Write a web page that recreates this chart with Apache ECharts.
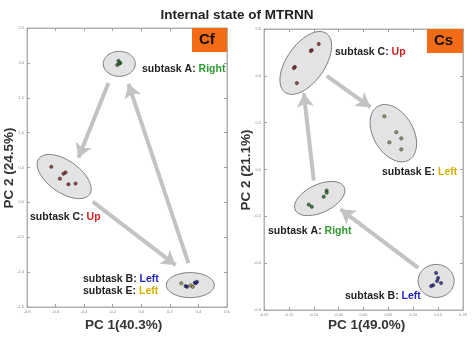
<!DOCTYPE html>
<html>
<head>
<meta charset="utf-8">
<script src="https://cdn.jsdelivr.net/npm/echarts@6/dist/echarts.min.js"></script>
<style>
  html, body { margin: 0; padding: 0; background: #fff; }
  #chart { width: 474px; height: 339px; }
</style>
</head>
<body>
<div id="chart"></div>
<script>
// PCA projections of the MTRNN internal state, one panel per context layer
const cfA = [[-0.160, 2.03], [-0.147, 2.00], [-0.168, 1.97], [-0.154, 1.99]];
const cfC = [[-0.63, 0.51], [-0.545, 0.41], [-0.53, 0.43], [-0.57, 0.34], [-0.51, 0.26], [-0.46, 0.27]];
const cfB = [[0.31, -1.20], [0.32, -1.21], [0.38, -1.16], [0.39, -1.14], [0.375, -1.15]];
const cfE = [[0.28, -1.16], [0.36, -1.21], [0.345, -1.19]];

const csC = [[-0.090, 0.536], [-0.104, 0.510], [-0.106, 0.506], [-0.138, 0.438], [-0.140, 0.433], [-0.134, 0.369]];
const csE = [[0.042, 0.227], [0.066, 0.159], [0.076, 0.133], [0.052, 0.116], [0.076, 0.086]];
const csA = [[-0.074, -0.090], [-0.074, -0.099], [-0.080, -0.116], [-0.110, -0.150], [-0.104, -0.159]];
const csB = [[0.146, -0.442], [0.150, -0.463], [0.148, -0.476], [0.156, -0.485], [0.140, -0.494], [0.136, -0.498]];

// Axis ranges and tick steps
const cfXRange = [-0.8, 0.6], cfXStep = 0.2;
const cfYRange = [-1.5, 2.5], cfYStep = 0.5;
const csXRange = [-0.20, 0.20], csXStep = 0.05;
const csYRange = [-0.6, 0.6], csYStep = 0.2;

// Transition arrows between subtask clusters (data coordinates)
const cfArrows = [
  [[-0.23, 1.71], [-0.44, 0.64]],
  [[-0.34, 0.01], [0.24, -0.90]],
  [[0.33, -0.87], [-0.09, 1.70]]
];
const csArrows = [
  [[-0.074, 0.400], [0.014, 0.266]],
  [[-0.100, -0.047], [-0.120, 0.326]],
  [[0.110, -0.420], [-0.046, -0.170]]
];

// Cluster outlines: centre (data), semi-axes (px), tilt (deg, screen)
const cfHulls = [
  [-0.154, 1.986, 16, 12.5, 0],
  [-0.54, 0.37, 31, 16, 35],
  [0.343, -1.186, 24, 12.5, 0]
];
const csHulls = [
  [-0.116, 0.455, 36, 19, -55],
  [0.060, 0.155, 31, 20, 60],
  [-0.088, -0.124, 27, 14, -25],
  [0.146, -0.476, 18, 16.5, 0]
];

const COLORS = { right: '#2f9a2f', up: '#d42222', leftB: '#2424c8', leftE: '#d6b000' };
const PT = { A: '#1d6a1d', C: '#8c1c1c', B: '#1c1c8c', E: '#9a9040', E2: '#8a8a48' };

const FONT = '"Liberation Sans", Arial, sans-serif';

const chart = echarts.init(document.getElementById('chart'), null, { renderer: 'canvas' });

function ellipseRender(params, api) {
  const c = api.coord([api.value(0), api.value(1)]);
  const a = api.value(2), b = api.value(3), th = api.value(4) * Math.PI / 180;
  const pts = [];
  for (let i = 0; i < 72; i++) {
    const t = i / 72 * Math.PI * 2;
    pts.push([
      c[0] + a * Math.cos(th) * Math.cos(t) - b * Math.sin(th) * Math.sin(t),
      c[1] + a * Math.sin(th) * Math.cos(t) + b * Math.cos(th) * Math.sin(t)
    ]);
  }
  return {
    type: 'polygon',
    shape: { points: pts },
    style: { fill: '#e3e3e3', stroke: '#7c7c7c', lineWidth: 1 }
  };
}

function axisPair(range, step, gridIndex, isX, decimals) {
  const common = {
    type: 'value', gridIndex: gridIndex, min: range[0], max: range[1], interval: step,
    splitLine: { show: false },
    axisLine: { show: true, onZero: false, lineStyle: { color: '#b0b0b0', width: 1 } },
    axisTick: { show: true, inside: true, length: 3, lineStyle: { color: '#a0a0a0' } }
  };
  const main = Object.assign({}, common, {
    position: isX ? 'bottom' : 'left',
    axisLabel: {
      show: true, fontSize: 4, color: '#888', margin: 3, fontFamily: FONT,
      formatter: v => v.toFixed(decimals)
    }
  });
  const opp = Object.assign({}, common, {
    position: isX ? 'top' : 'right',
    axisLabel: { show: false }
  });
  return [main, opp];
}

const xCf = axisPair(cfXRange, cfXStep, 0, true, 1);
const yCf = axisPair(cfYRange, cfYStep, 0, false, 1);
const xCs = axisPair(csXRange, csXStep, 1, true, 2);
const yCs = axisPair(csYRange, csYStep, 1, false, 1);

function dots(name, data, xi, yi, color) {
  return {
    name: name, type: 'scatter', xAxisIndex: xi, yAxisIndex: yi, data: data,
    symbol: 'circle', symbolSize: 3.3, z: 5,
    itemStyle: { color: color, borderColor: '#1a1a1a', borderWidth: 0.6 },
    silent: true
  };
}

function arrows(list, xi, yi) {
  return {
    type: 'scatter', xAxisIndex: xi, yAxisIndex: yi, data: [], z: 3,
    markLine: {
      silent: true, animation: false,
      symbol: ['none', 'arrow'], symbolSize: [13, 14],
      label: { show: false },
      lineStyle: { color: '#c3c3c3', width: 4, type: 'solid' },
      data: list.map(p => [{ coord: p[0] }, { coord: p[1] }])
    }
  };
}

function hulls(list, xi, yi) {
  return {
    type: 'custom', xAxisIndex: xi, yAxisIndex: yi, z: 2, silent: true,
    renderItem: ellipseRender,
    encode: { x: 0, y: 1 },
    data: list
  };
}

function label(x, y, head, tail, tailColor) {
  return {
    type: 'text', left: x, top: y, z: 20,
    style: {
      text: '{h|' + head + '}{t|' + tail + '}',
      rich: {
        h: { fontFamily: FONT, fontWeight: 'bold', fontSize: 10.5, fill: '#222' },
        t: { fontFamily: FONT, fontWeight: 'bold', fontSize: 10.5, fill: tailColor }
      }
    }
  };
}

const option = {
  animation: false,
  backgroundColor: '#fff',
  title: {
    text: 'Internal state of MTRNN', left: 'center', top: 3,
    textStyle: { fontFamily: FONT, fontWeight: 'bold', fontSize: 13.5, color: '#222' }
  },
  grid: [
    { left: 27, top: 28, width: 200, height: 279, show: true, borderColor: '#b0b0b0', borderWidth: 1 },
    { left: 264, top: 29, width: 199, height: 281, show: true, borderColor: '#b0b0b0', borderWidth: 1 }
  ],
  xAxis: [xCf[0], xCf[1], xCs[0], xCs[1]],
  yAxis: [yCf[0], yCf[1], yCs[0], yCs[1]],
  series: [
    hulls(cfHulls, 0, 0),
    hulls(csHulls, 2, 2),
    arrows(cfArrows, 0, 0),
    arrows(csArrows, 2, 2),
    dots('Cf A', cfA, 0, 0, PT.A),
    dots('Cf C', cfC, 0, 0, PT.C),
    dots('Cf B', cfB, 0, 0, PT.B),
    dots('Cf E', cfE, 0, 0, PT.E),
    dots('Cs C', csC, 2, 2, PT.C),
    dots('Cs E', csE, 2, 2, PT.E2),
    dots('Cs A', csA, 2, 2, PT.A),
    dots('Cs B', csB, 2, 2, PT.B)
  ],
  graphic: [
    // panel tags
    { type: 'rect', left: 192, top: 28, shape: { width: 35, height: 24 }, style: { fill: '#f36b14' }, z: 10 },
    { type: 'text', left: 199, top: 32, z: 11,
      style: { text: 'Cf', fontFamily: FONT, fontWeight: 'bold', fontSize: 15, fill: '#111' } },
    { type: 'rect', left: 427, top: 29, shape: { width: 36, height: 24 }, style: { fill: '#f36b14' }, z: 10 },
    { type: 'text', left: 434, top: 33, z: 11,
      style: { text: 'Cs', fontFamily: FONT, fontWeight: 'bold', fontSize: 15, fill: '#111' } },

    // axis titles
    { type: 'text', left: 85, top: 318, z: 11,
      style: { text: 'PC 1(40.3%)', fontFamily: FONT, fontWeight: 'bold', fontSize: 13.5, fill: '#333' } },
    { type: 'text', left: 328, top: 318, z: 11,
      style: { text: 'PC 1(49.0%)', fontFamily: FONT, fontWeight: 'bold', fontSize: 13.5, fill: '#333' } },
    { type: 'text', x: 9, y: 168, rotation: Math.PI / 2, z: 11,
      style: { text: 'PC 2 (24.5%)', fontFamily: FONT, fontWeight: 'bold', fontSize: 13.5, fill: '#333',
               align: 'center', verticalAlign: 'middle' } },
    { type: 'text', x: 246, y: 170, rotation: Math.PI / 2, z: 11,
      style: { text: 'PC 2 (21.1%)', fontFamily: FONT, fontWeight: 'bold', fontSize: 13.5, fill: '#333',
               align: 'center', verticalAlign: 'middle' } },

    // cluster annotations, Cf panel
    label(142, 64, 'subtask A: ', 'Right', COLORS.right),
    label(30, 212, 'subtask C: ', 'Up', COLORS.up),
    label(83, 274, 'subtask B: ', 'Left', COLORS.leftB),
    label(83, 286, 'subtask E: ', 'Left', COLORS.leftE),

    // cluster annotations, Cs panel
    label(335, 47, 'subtask C: ', 'Up', COLORS.up),
    label(382, 167, 'subtask E: ', 'Left', COLORS.leftE),
    label(268, 226, 'subtask A: ', 'Right', COLORS.right),
    label(345, 291, 'subtask B: ', 'Left', COLORS.leftB)
  ]
};

chart.setOption(option);
</script>
</body>
</html>
